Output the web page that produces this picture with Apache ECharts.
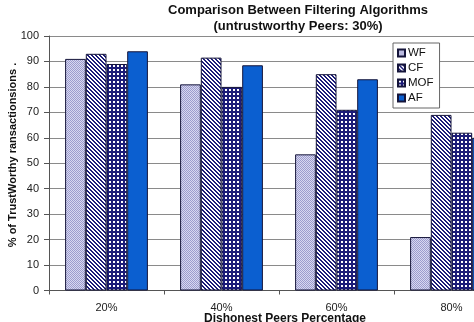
<!DOCTYPE html>
<html><head><meta charset="utf-8">
<script src="https://cdn.jsdelivr.net/npm/echarts@6/dist/echarts.min.js"></script>
<style>html,body{margin:0;padding:0;background:#fff}#c{width:474px;height:322px}</style>
</head><body><div id="c"></div>
<script>
var categories = ['20%', '40%', '60%', '80%'];
var seriesNames = ['WF', 'CF', 'MOF', 'AF'];
var wf = [91, 81, 53.5, 21];
var cf = [93, 91.5, 85, 69];
var mof = [89, 80, 71, 62];
var af = [94, 88.5, 83, 60];
var yTicks = [0, 10, 20, 30, 40, 50, 60, 70, 80, 90, 100];
var yAxisTitle = '% of TrustWorthy ransactionsions .';
var xAxisTitle = 'Dishonest Peers Percentage';

function pat(w, h, draw) {
  var c = document.createElement('canvas'); c.width = w; c.height = h;
  var g = c.getContext('2d'); draw(g, w, h);
  return { image: c, repeat: 'repeat' };
}
var navy = '#1c1c78';
var pWF = pat(2, 2, function (g) {
  g.fillStyle = '#d8d8f0'; g.fillRect(0, 0, 2, 2);
  g.fillStyle = '#9c9cce'; g.fillRect(0, 0, 1, 1); g.fillRect(1, 1, 1, 1);
});
var pCF = pat(4, 4, function (g) {
  g.fillStyle = '#ffffff'; g.fillRect(0, 0, 4, 4);
  g.fillStyle = navy;
  for (var i = 0; i < 4; i++) { g.fillRect(i, i, 1, 1); g.fillRect((i + 1) % 4, i, 1, 1); }
});
var pMOF = pat(4, 4, function (g) {
  g.fillStyle = navy; g.fillRect(0, 0, 4, 4);
  g.fillStyle = '#ffffff'; g.fillRect(1, 1, 2, 2);
});
var fills = [pWF, pCF, pMOF, '#0b5fd0'];
var dataSets = [wf, cf, mof, af];

var chart = echarts.init(document.getElementById('c'), null, { renderer: 'canvas' });
var font = 'Liberation Sans, Arial, sans-serif';
chart.setOption({
  animation: false,
  backgroundColor: '#fff',
  textStyle: { fontFamily: font },
  title: {
    text: 'Comparison Between Filtering Algorithms\n(untrustworthy Peers: 30%)',
    left: 293, top: -3, textAlign: 'center',
    textStyle: { fontSize: 13, fontWeight: 'bold', color: '#111', lineHeight: 16, fontFamily: font }
  },
  graphic: [{
    type: 'text', x: 13, y: 155, rotation: Math.PI / 2,
    style: { text: yAxisTitle, align: 'center', verticalAlign: 'middle',
      font: 'bold 11px ' + font, fill: '#111' }
  }, {
    type: 'text', x: 285, y: 319,
    style: { text: xAxisTitle, align: 'center', verticalAlign: 'middle',
      font: 'bold 12px ' + font, fill: '#111' }
  }],
  legend: {
    orient: 'vertical', left: 393, top: 43,
    backgroundColor: '#fff', borderColor: '#666', borderWidth: 1,
    padding: [4, 6, 4, 4], itemGap: 3, itemWidth: 7, itemHeight: 7,
    textStyle: { fontSize: 11.5, color: '#111', fontFamily: font, padding: [0, 0, 0, -2] },
    data: seriesNames.map(function (n) { return { name: n, icon: 'rect' }; })
  },
  grid: { left: 49, top: 36, width: 460, height: 254.5, outerBoundsMode: 'none', containLabel: false },
  xAxis: {
    type: 'category', data: categories,
    axisLine: { lineStyle: { color: '#555' } },
    axisTick: { show: true, length: 4, lineStyle: { color: '#555' } },
    axisLabel: { margin: 12, fontSize: 11, color: '#222' }
  },
  yAxis: {
    type: 'value', min: 0, max: 100, interval: 10,
    axisLine: { show: true, lineStyle: { color: '#555' } },
    axisTick: { show: true, length: 5, lineStyle: { color: '#555' } },
    axisLabel: { margin: 10, fontSize: 11, color: '#222',
      formatter: function (v) { return yTicks.indexOf(v) >= 0 ? String(v) : ''; } },
    splitLine: { lineStyle: { color: '#8a8a8a' } }
  },
  series: seriesNames.map(function (n, i) {
    return {
      name: n, type: 'bar', data: dataSets[i],
      barGap: 0, barCategoryGap: '28%',
      itemStyle: { color: fills[i], borderColor: '#15153a', borderWidth: 1 }
    };
  })
});
</script></body></html>
